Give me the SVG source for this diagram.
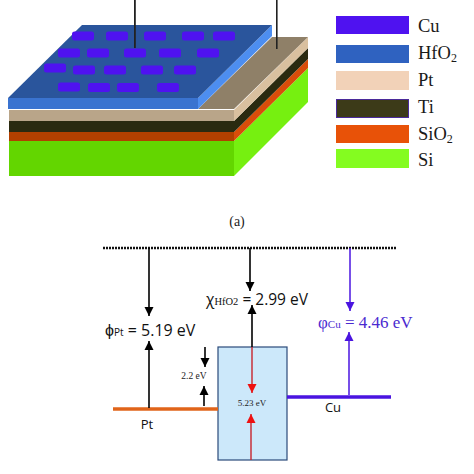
<svg xmlns="http://www.w3.org/2000/svg" width="474" height="474" viewBox="0 0 474 474">
<style>
.cu{fill:#4f12f0}
.leg{font-family:"Liberation Serif",serif;font-size:18.500px;fill:#1a1a1a}
.sans{font-family:"Open Sans","Liberation Sans",sans-serif;fill:#111}
.ser{font-family:"Liberation Serif",serif;fill:#222}
.blk{stroke:#000;stroke-width:1.6;fill:none;marker-end:url(#ab)}
.red{stroke:#c8242c;stroke-width:1.4;fill:none;marker-end:url(#ar)}
.vio{stroke:#4a14e0;stroke-width:1.5;fill:none;marker-end:url(#av)}
</style>
<defs>
<marker id="ab" markerUnits="userSpaceOnUse" markerWidth="10" markerHeight="10" refX="9" refY="5" orient="auto"><path d="M0 0.500L9 5L0 9.500Z" fill="#000"/></marker>
<marker id="ar" markerUnits="userSpaceOnUse" markerWidth="10" markerHeight="10" refX="9" refY="5" orient="auto"><path d="M0 0.500L9 5L0 9.500Z" fill="#ee1111"/></marker>
<marker id="av" markerUnits="userSpaceOnUse" markerWidth="10" markerHeight="10" refX="9" refY="5" orient="auto"><path d="M0 0.500L9 5L0 9.500Z" fill="#4a14e0"/></marker>
</defs>
<rect width="474" height="474" fill="#fff"/>
<g id="device">
<polygon points="9,141 234,141 234,176 9,176" fill="#63d600"/>
<polygon points="234,141 308,68 308,102 234,176" fill="#76f010"/>
<polygon points="9,132 234,132 234,141 9,141" fill="#b24000"/>
<polygon points="234,132 308,59 308,68 234,141" fill="#d94d0a"/>
<polygon points="9,121 234,121 234,132 9,132" fill="#2a2a10"/>
<polygon points="234,121 308,48 308,59 234,132" fill="#2a2a10"/>
<polygon points="9,110 234,110 234,121 9,121" fill="#b9a589"/>
<polygon points="234,110 308,37 308,48 234,121" fill="#d9c09f"/>
<polygon points="198,109 234,109 308,37 272,37" fill="#8f8068"/>
<polygon points="8,98 198,98 198,109 8,109" fill="#3a73d0"/>
<polygon points="198,98 272,25 272,36 198,109" fill="#4d8ef0"/>
<polygon points="8,98 82,25 272,25 198,98" fill="#2a559c"/>
<g class="cu">
<rect x="72" y="31.500" width="22" height="9" rx="2.500"/><rect x="106" y="31.500" width="22" height="9" rx="2.500"/><rect x="144" y="31.500" width="22" height="9" rx="2.500"/><rect x="182" y="31.500" width="22" height="9" rx="2.500"/><rect x="213" y="31.500" width="22" height="9" rx="2.500"/>
<rect x="58" y="48.500" width="22" height="9" rx="2.500"/><rect x="87" y="48.500" width="22" height="9" rx="2.500"/><rect x="124" y="48.500" width="22" height="9" rx="2.500"/><rect x="159" y="48.500" width="22" height="9" rx="2.500"/><rect x="197" y="48.500" width="22" height="9" rx="2.500"/>
<rect x="44" y="63.500" width="22" height="9" rx="2.500"/><rect x="73" y="65.500" width="22" height="9" rx="2.500"/><rect x="104" y="65.500" width="22" height="9" rx="2.500"/><rect x="141" y="65.500" width="22" height="9" rx="2.500"/><rect x="174" y="65.500" width="22" height="9" rx="2.500"/>
<rect x="58" y="82.500" width="22" height="9" rx="2.500"/><rect x="88" y="83" width="22" height="9" rx="2.500"/><rect x="117" y="83" width="22" height="9" rx="2.500"/><rect x="157" y="83" width="22" height="9" rx="2.500"/>
</g>
<rect x="134" y="0" width="1.800" height="48" fill="#222"/>
<rect x="276" y="0" width="1.600" height="49" fill="#222"/>
</g>
<g id="legend">
<rect x="336" y="16" width="73" height="18" fill="#4f12f0"/><text class="leg" x="418" y="32">Cu</text>
<rect x="336" y="45" width="73" height="18" fill="#2f62c0"/><text class="leg" x="418" y="59">HfO<tspan font-size="12" dy="3">2</tspan></text>
<rect x="336" y="71" width="73" height="19" fill="#f2d2b8"/><text class="leg" x="418" y="86">Pt</text>
<rect x="336.500" y="99.500" width="72" height="18" fill="#3c3a18" stroke="#4a2a9a"/><text class="leg" x="418" y="113">Ti</text>
<rect x="336" y="125" width="73" height="18" fill="#e85208"/><text class="leg" x="418" y="140">SiO<tspan font-size="12" dy="3">2</tspan></text>
<rect x="336" y="149" width="73" height="19" fill="#84fc20"/><text class="leg" x="418" y="166">Si</text>
</g>
<text class="ser" x="237" y="226" font-size="14" text-anchor="middle">(a)</text>
<line x1="103" y1="248" x2="396" y2="248" stroke="#111" stroke-width="2.500" stroke-dasharray="2 1"/>
<g id="barrier">
<rect x="218" y="347" width="69" height="113" fill="#cce8fa" stroke="#2a4a7a" stroke-width="1.200"/>
<text class="ser" x="252" y="406" font-size="9" text-anchor="middle">5.23 eV</text>
</g>
<g id="pt">
<line x1="113" y1="409" x2="218" y2="409" stroke="#e0641a" stroke-width="3.500"/>
<text class="sans" x="147" y="429" font-size="13" text-anchor="middle">Pt</text>
<text class="sans" x="105" y="336" font-size="16">ϕ<tspan font-size="10">Pt</tspan> = 5.19 eV</text>
<text class="ser" x="194" y="379" font-size="9.500" text-anchor="middle">2.2 eV</text>
</g>
<g id="cu">
<line x1="287" y1="397" x2="391" y2="397" stroke="#4a14e0" stroke-width="3.500"/>
<text class="sans" x="333" y="412" font-size="13" text-anchor="middle">Cu</text>
<text x="318" y="328" font-family="Liberation Serif,serif" font-size="17" fill="#4a2ad0">φ<tspan font-size="11">Cu</tspan> = 4.46 eV</text>
</g>
<g id="hfo2">
<text class="sans" x="206" y="305" font-size="15.500">χ<tspan font-family="Liberation Serif,serif" font-size="10.500">HfO2</tspan> = 2.99 eV</text>
</g>
<g id="connectors">
<path class="blk" d="M149 248V316"/>
<path class="blk" d="M149 408V341"/>
<path class="blk" d="M250 248V291"/>
<path class="blk" d="M252 347V305"/>
<path class="blk" d="M205 347V367"/>
<path class="blk" d="M204 406V386"/>
<path class="red" d="M252 347V393"/>
<path class="red" d="M251 460V414"/>
<path class="vio" d="M350 248V311"/>
<path class="vio" d="M349 395V332"/>
</g>
</svg>
